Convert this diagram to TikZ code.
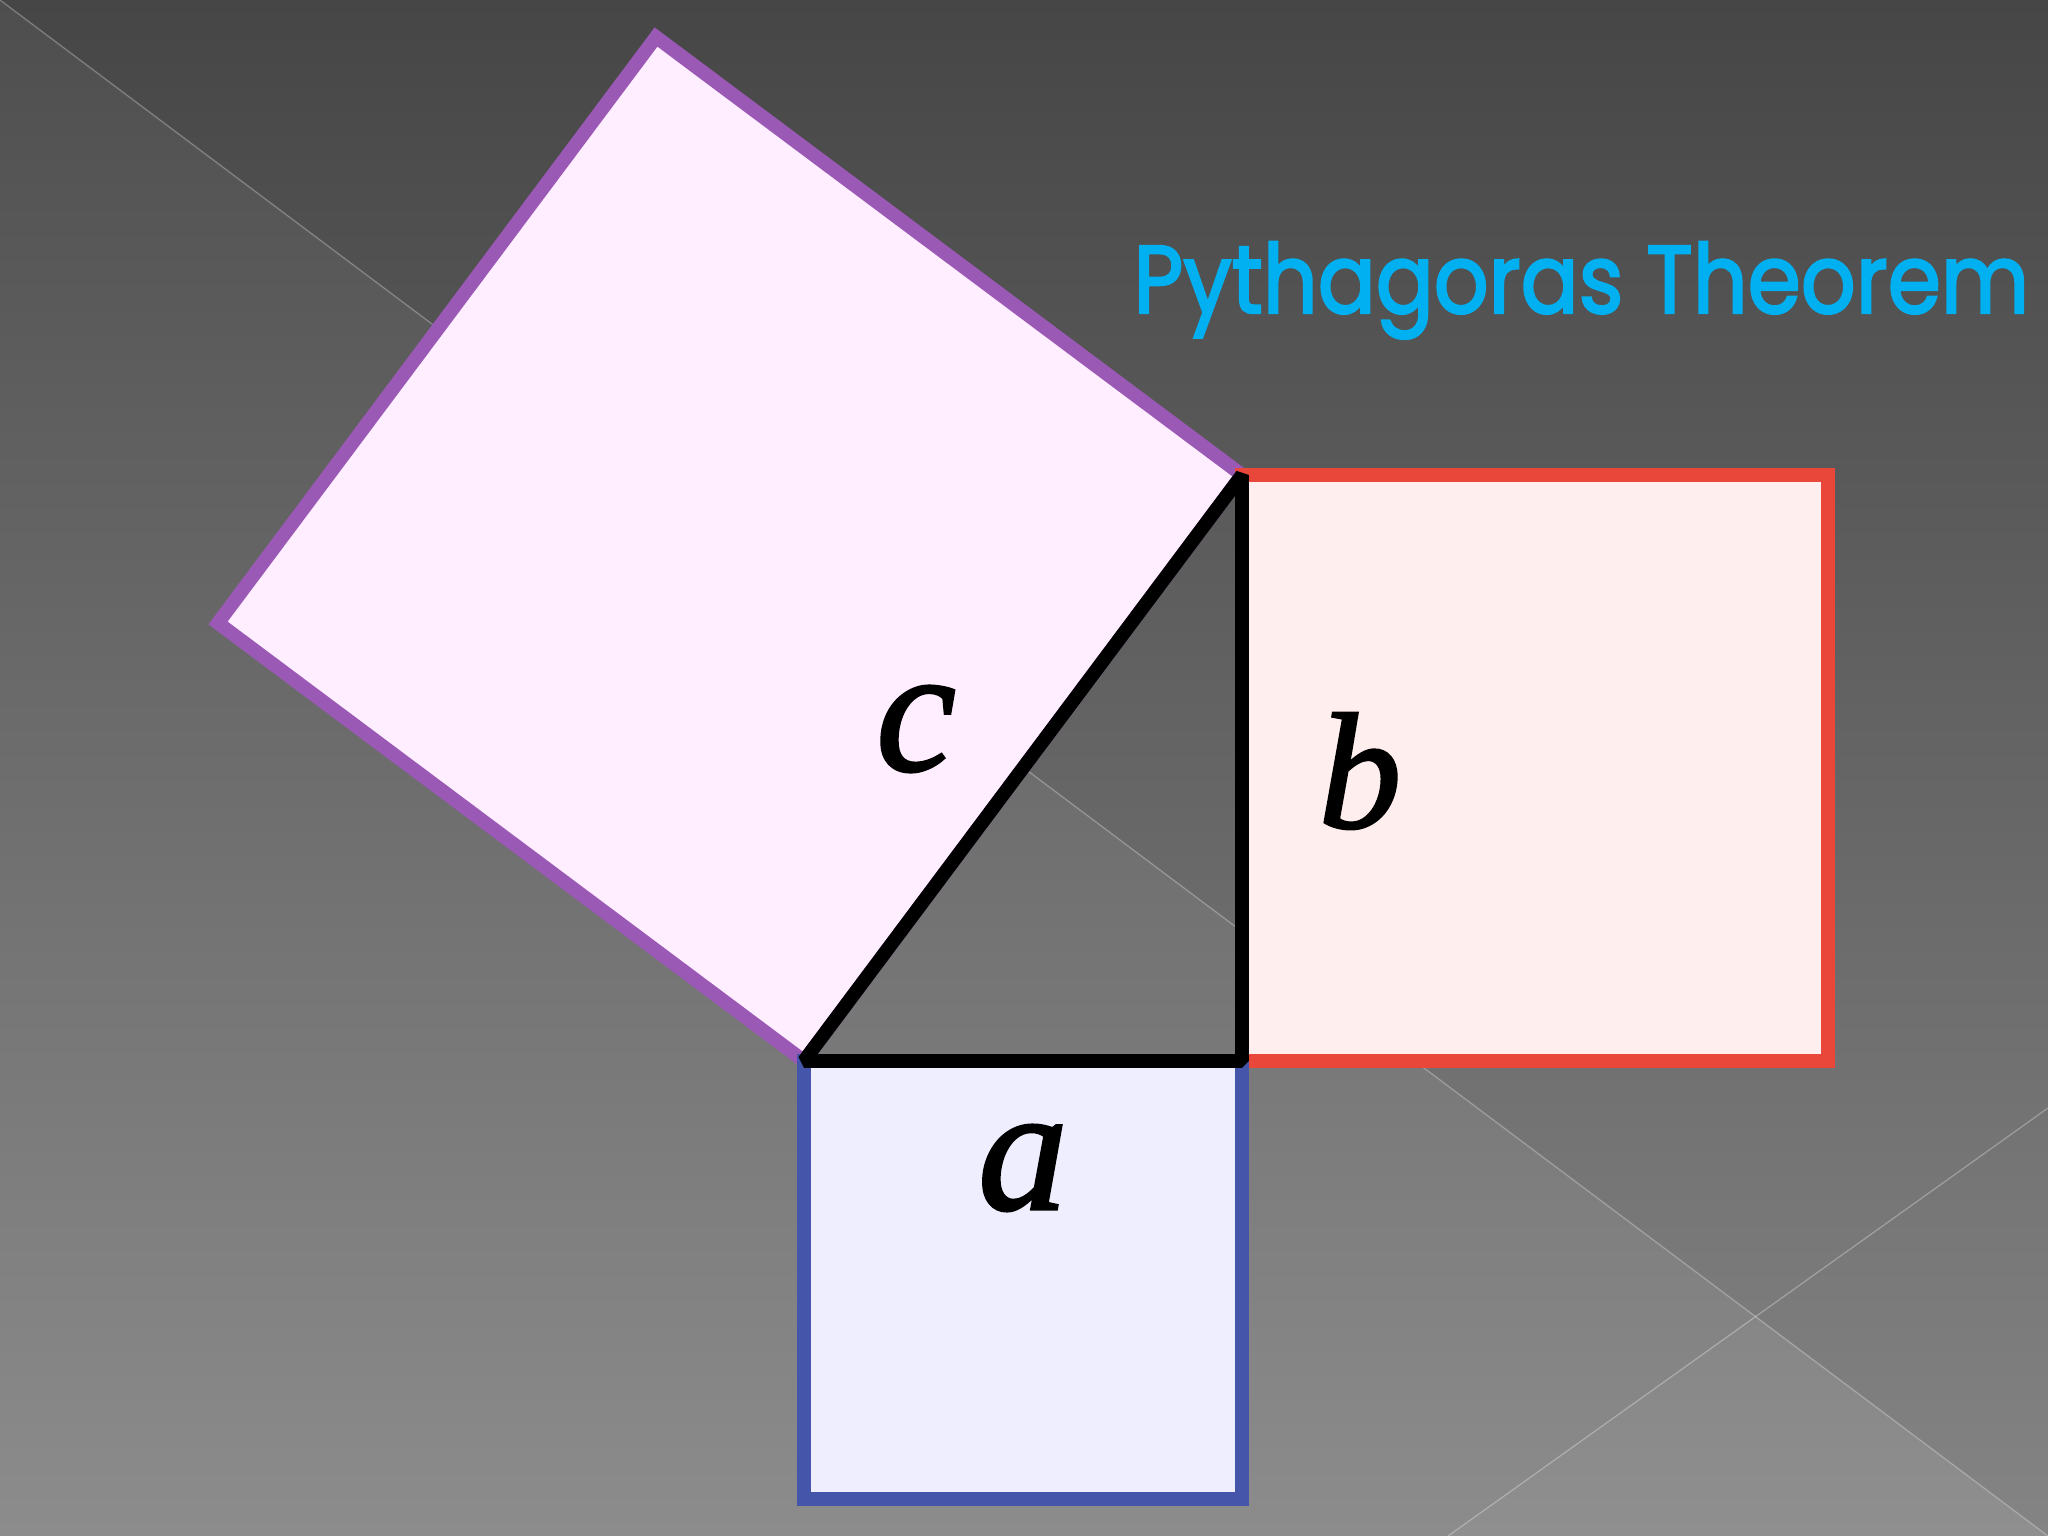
\documentclass[tikz,border=0pt]{standalone}
\usepackage{fontspec}
\setmainfont{Liberation Serif}
\newfontfamily\titlefont{Poppins}[FakeBold=2.5]
\newfontfamily\labfont{Liberation Serif Italic}[FakeBold=1.6]
\usepackage{graphicx}
\definecolor{bgtop}{HTML}{4E4E4E}
\definecolor{bgmid}{HTML}{6E6E6E}
\definecolor{bgbot}{HTML}{8C8C8C}
\definecolor{uptop}{HTML}{464646}
\definecolor{upmid}{HTML}{5D5D5D}
\definecolor{upbot}{HTML}{848484}
\definecolor{sqcfill}{HTML}{FFEEFF}
\definecolor{sqcline}{HTML}{9B59B6}
\definecolor{sqbfill}{HTML}{FFEEEE}
\definecolor{sqbline}{HTML}{E8473A}
\definecolor{sqafill}{HTML}{EEEEFF}
\definecolor{sqaline}{HTML}{4455AA}
\definecolor{titlecol}{HTML}{00B0F0}
\tikzset{
  sqside/.style={line width=3.9pt, line join=miter},
  triline/.style={draw=black, line width=3.9pt, line join=bevel},
  bgline/.style={draw=white, draw opacity=0.3, line width=0.35pt},
  lab/.style={inner sep=0pt, text=black},
}
\begin{document}
\begin{tikzpicture}[x=0.01cm, y=-0.01cm]
\useasboundingbox (0,0) rectangle (2048,1536);
% background
\shade[top color=bgtop, middle color=bgmid, bottom color=bgbot] (0,0) rectangle (2048,1536);
\shade[top color=uptop, middle color=upmid, bottom color=upbot] (0,0) -- (2048,0) -- (2048,1536) -- cycle;
\fill[white, opacity=0.03] (1448,1536) -- (1755,1316) -- (2048,1536) -- cycle;
\coordinate (d1) at (0,0);
\coordinate (d2) at (2048,1536);
\coordinate (e1) at (2048,1108);
\coordinate (e2) at (1448,1536);
\draw[bgline] (d1) -- (d2);
\draw[bgline] (e1) -- (e2);
% triangle vertices
\coordinate (R) at (1242,1061);
\coordinate (T) at (1242,475);
\coordinate (L) at (804,1061);
% squares
\coordinate (cT) at (656,37);
\coordinate (cL) at (218,623);
\filldraw[sqside, fill=sqcfill, draw=sqcline] (L) -- (T) -- (cT) -- (cL) -- cycle;
\coordinate (bTR) at (1828,475);
\coordinate (bBR) at (1828,1061);
\filldraw[sqside, fill=sqbfill, draw=sqbline] (T) -- (bTR) -- (bBR) -- (R) -- cycle;
\coordinate (aBL) at (804,1499);
\coordinate (aBR) at (1242,1499);
\filldraw[sqside, fill=sqafill, draw=sqaline] (L) -- (R) -- (aBR) -- (aBL) -- cycle;
% triangle
\draw[triline] (L) -- (R) -- (T) -- cycle;
% labels
\node[lab, font=\labfont\fontsize{51}{51}\selectfont] (lc) at (916,729) {c};
\node[lab, font=\labfont\fontsize{47}{47}\selectfont] (lb) at (1360,771) {b};
\node[lab, font=\labfont\fontsize{51}{51}\selectfont] (la) at (1023,1168) {a};
% title
\node[anchor=base west, inner sep=0pt, text=titlecol] (title) at (1133,313)
  {\resizebox{8.95cm}{0.71cm}{\titlefont Pythagoras Theorem}};
\end{tikzpicture}
\end{document}
